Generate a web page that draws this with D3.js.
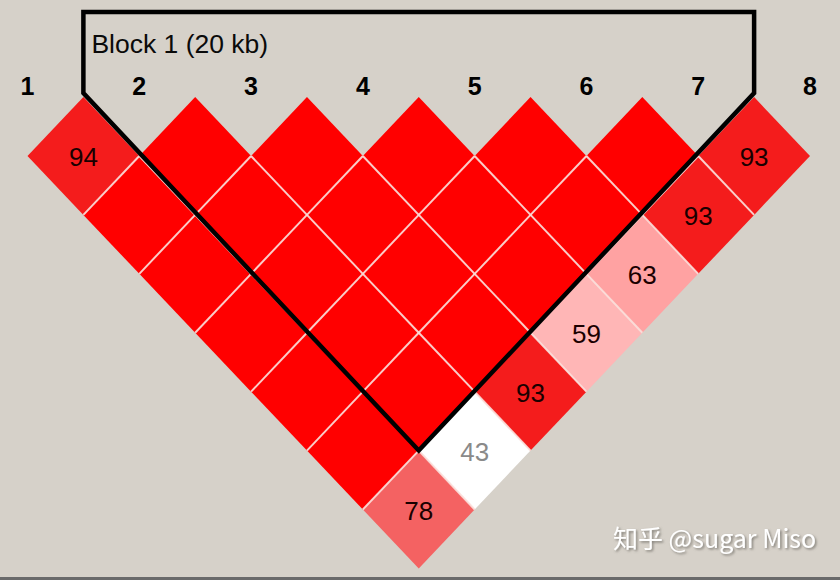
<!DOCTYPE html>
<html>
<head>
<meta charset="utf-8">
<script src="https://cdn.jsdelivr.net/npm/d3@7"></script>
<style>
  html, body { margin: 0; padding: 0; background: #d6d1c9; }
  svg { display: block; }
</style>
</head>
<body>
<svg id="chart" width="840" height="580"></svg>
<script>
// ---- data ----
const markers = ["1", "2", "3", "4", "5", "6", "7", "8"];
// D' (x100) for marker i (row) with markers i+1..8
const dPrimeRows = [
  [94, 100, 100, 100, 100, 100, 78],
  [100, 100, 100, 100, 100, 43],
  [100, 100, 100, 100, 93],
  [100, 100, 100, 59],
  [100, 100, 63],
  [100, 93],
  [93]
];
// pairs whose LOD < 2 (shown white)
const lowLodPairs = [[2, 8]];
const blockNames = ["Block 1 (20 kb)"];
const blockStarts = [2];
const blockEnds = [7];
const watermark = "知乎 @sugar Miso";

// ---- build pair table ----
const pairs = [];
dPrimeRows.forEach((row, ri) => {
  row.forEach((v, k) => {
    const i = ri + 1, j = ri + 2 + k;
    const low = lowLodPairs.some(p => p[0] === i && p[1] === j);
    pairs.push({ i, j, d: j - i, value: v, low });
  });
});

const svg = d3.select("#chart");
const defs = svg.append("defs");
const f = defs.append("filter").attr("id", "shadow").attr("x", "-10%").attr("y", "-30%").attr("width", "130%").attr("height", "160%");
f.append("feDropShadow").attr("dx", 1.5).attr("dy", 1.5).attr("stdDeviation", 0.8)
  .attr("flood-color", "#6e6a64").attr("flood-opacity", 0.8);

svg.append("rect").attr("width", 840).attr("height", 580).attr("fill", "#d6d1c9");

const x = d3.scalePoint().domain(markers).range([27.5, 810]);
const y = d3.scaleLinear().domain([1, 7]).range([156, 509.5]);
const hw = x.step() / 2;
const hh = y(2) - y(1);

const color = d3.scaleLinear()
  .domain([59, 63, 78, 93, 94, 99.9, 100])
  .range(["#ffb6b6", "#ffa2a2", "#f46262", "#f41c1c", "#f41c1c", "#f41c1c", "#ff0000"]);

const cx = p => (x(String(p.i)) + x(String(p.j))) / 2;
const cy = p => y(p.d);

// diamonds
svg.append("g").selectAll("path").data(pairs).join("path")
  .attr("d", p => {
    const X = cx(p), Y = cy(p);
    return `M${X},${Y - hh}L${X + hw},${Y}L${X},${Y + hh}L${X - hw},${Y}Z`;
  })
  .attr("fill", p => p.low ? "#ffffff" : color(p.value));

// interior gap lines
const gaps = svg.append("g").attr("stroke", "#fbe0dc").attr("stroke-width", 2).attr("stroke-opacity", 0.9);
pairs.forEach(p => {
  const X = cx(p), Y = cy(p);
  if (p.j < markers.length) {
    gaps.append("line").attr("x1", X).attr("y1", Y + hh).attr("x2", X + hw).attr("y2", Y);
  }
  if (p.i > 1) {
    gaps.append("line").attr("x1", X).attr("y1", Y + hh).attr("x2", X - hw).attr("y2", Y);
  }
});

// D' labels
svg.append("g").selectAll("text").data(pairs.filter(p => p.value < 100)).join("text")
  .attr("x", p => cx(p))
  .attr("y", p => cy(p) + 10)
  .attr("text-anchor", "middle")
  .attr("font-family", "'Liberation Sans', Arial, sans-serif")
  .attr("font-size", 26)
  .attr("fill", p => p.low ? "#8a8a8a" : "#1a0000")
  .text(p => p.value);

// marker labels
svg.append("g").selectAll("text").data(markers).join("text")
  .attr("x", m => x(m))
  .attr("y", 95)
  .attr("text-anchor", "middle")
  .attr("font-family", "'Liberation Sans', Arial, sans-serif")
  .attr("font-weight", "bold")
  .attr("font-size", 25)
  .attr("fill", "#000")
  .text(m => m);

// blocks
blockNames.forEach((name, b) => {
  const s = blockStarts[b], e = blockEnds[b];
  const lx = (x(String(s - 1)) + x(String(s))) / 2;
  const rx = (x(String(e)) + x(String(e + 1))) / 2;
  const bx = (x(String(s)) + x(String(e))) / 2;
  const by = y(e - s) + hh;
  const cornerY = y(1) - hh - 4;
  const topY = 12;
  svg.append("path")
    .attr("d", `M${lx},${cornerY}L${lx},${topY}L${rx},${topY}L${rx},${cornerY}L${bx},${by}Z`)
    .attr("fill", "none")
    .attr("stroke", "#000")
    .attr("stroke-width", 4.5)
    .attr("stroke-linejoin", "miter");
  svg.append("text")
    .attr("x", lx + 8)
    .attr("y", 53)
    .attr("font-family", "'Liberation Sans', Arial, sans-serif")
    .attr("font-size", 26.5)
    .attr("fill", "#0a0a0a")
    .text(name);
});

// watermark
svg.append("text")
  .attr("x", 613).attr("y", 548)
  .attr("font-family", "'Noto Sans CJK SC', 'Noto Sans', sans-serif")
  .attr("font-size", 25)
  .attr("fill", "#ffffff")
  .attr("filter", "url(#shadow)")
  .text(watermark);

// bottom border
svg.append("rect").attr("x", 0).attr("y", 577).attr("width", 840).attr("height", 3).attr("fill", "#6a6a6a");
</script>
</body>
</html>
